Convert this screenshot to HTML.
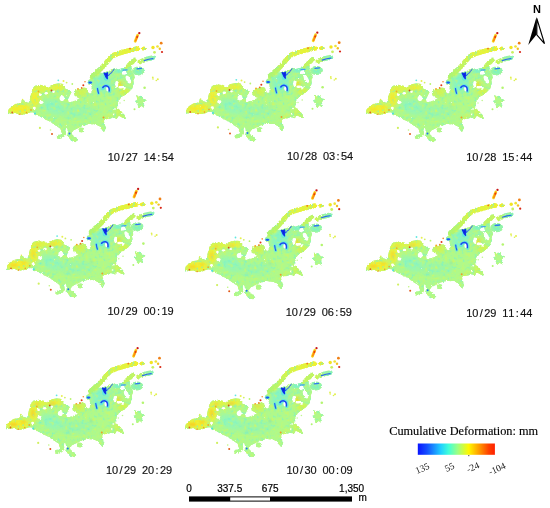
<!DOCTYPE html>
<html><head><meta charset="utf-8"><title>Cumulative Deformation</title>
<style>
html,body{margin:0;padding:0;background:#fff}
svg{display:block}
.lb{font-family:"Liberation Sans",sans-serif;font-size:11px;fill:#111;stroke:#111;stroke-width:0.15px}
.sb{font-family:"Liberation Sans",sans-serif;font-size:10px;fill:#000;text-anchor:middle;stroke:#000;stroke-width:0.2px}
.lt{font-family:"Liberation Serif",serif;font-size:12.3px;fill:#000;stroke:#000;stroke-width:0.15px}
.lk{font-family:"Liberation Serif",serif;font-size:9.6px;fill:#222;text-anchor:middle}
.nn{font-family:"Liberation Sans",sans-serif;font-size:11px;font-weight:bold;fill:#000;text-anchor:middle}
</style></head><body>
<svg width="550" height="508" viewBox="0 0 550 508">
<defs>
<filter id="b0" x="-20%" y="-20%" width="140%" height="140%"><feGaussianBlur stdDeviation="0.35"/></filter>
<filter id="b1" x="-20%" y="-20%" width="140%" height="140%"><feGaussianBlur stdDeviation="0.45"/></filter>
<filter id="b3" x="-20%" y="-20%" width="140%" height="140%"><feGaussianBlur stdDeviation="1.1"/></filter>
<filter id="b2" x="-20%" y="-20%" width="140%" height="140%"><feGaussianBlur stdDeviation="2"/></filter>
<filter id="be" x="-5%" y="-5%" width="110%" height="110%" color-interpolation-filters="sRGB">
 <feTurbulence type="fractalNoise" baseFrequency="0.45" numOctaves="2" seed="3" result="n"/>
 <feDisplacementMap in="SourceGraphic" in2="n" scale="2" xChannelSelector="R" yChannelSelector="G" result="d"/>
 <feGaussianBlur in="d" stdDeviation="1.1" result="ab"/>
 <feTurbulence type="fractalNoise" baseFrequency="0.6" numOctaves="2" seed="11" result="n2"/>
 <feComposite in="ab" in2="n2" operator="arithmetic" k1="0" k2="1" k3="1.45" k4="-0.72" result="m"/>
 <feColorMatrix in="m" type="matrix" values="0 0 0 0 1  0 0 0 0 1  0 0 0 0 1  0 0 0 8 -3.4" result="mk"/>
 <feComposite in="d" in2="mk" operator="in" result="h"/>
 <feTurbulence type="fractalNoise" baseFrequency="0.3" numOctaves="2" seed="5" result="n3"/>
 <feColorMatrix in="n3" type="matrix" values="0 0 0 0 0.47  0 0 0 0 0.95  0 0 0 0 0.8  2.8 0 0 0 -1.58" result="cy"/>
 <feComposite in="cy" in2="h" operator="atop" result="h2"/>
 <feColorMatrix in="n3" type="matrix" values="0 0 0 0 0.84  0 0 0 0 0.97  0 0 0 0 0.36  -2.6 0 0 0 1.1" result="yl"/>
 <feComposite in="yl" in2="h2" operator="atop" result="h3"/>
 <feGaussianBlur in="h3" stdDeviation="0.4"/>
</filter>
<g id="shape"><polygon points="8.0,113.7 9.0,110.0 12.0,106.5 16.0,104.5 21.0,103.5 22.5,99.8 25.0,102.0 29.0,103.8 30.0,101.0 31.0,96.5 32.0,93.5 33.0,89.0 35.0,86.5 40.0,85.5 44.0,86.0 47.0,87.0 49.0,89.2 50.0,87.0 52.0,85.5 55.0,84.8 58.3,84.0 62.0,84.5 64.5,86.5 64.0,89.0 66.0,89.5 69.0,90.5 71.0,92.0 69.5,95.0 67.5,99.0 68.0,102.0 72.0,102.3 76.0,101.0 79.0,99.5 81.0,98.0 78.0,97.0 75.0,95.0 74.5,92.0 76.5,90.0 80.0,89.5 83.0,88.3 86.0,88.5 87.5,90.5 88.0,93.5 90.0,94.2 92.0,93.5 92.2,88.0 92.0,84.5 88.5,83.8 88.2,81.3 91.0,79.0 91.7,77.4 94.7,73.5 97.5,71.2 99.5,72.8 101.0,73.6 104.0,73.0 106.5,72.2 108.8,71.6 112.0,69.6 115.2,68.8 118.4,70.2 121.6,68.8 125.0,67.0 129.0,64.0 131.0,66.5 131.0,71.0 132.7,73.5 134.5,77.0 133.0,80.0 133.2,83.5 132.0,88.0 128.0,92.0 124.0,95.0 120.0,98.0 118.0,101.0 117.5,105.0 116.0,107.5 119.0,110.0 122.0,113.0 124.0,115.0 125.5,119.0 122.0,117.0 119.0,115.0 116.5,118.0 113.0,117.0 110.0,118.0 106.0,118.5 103.0,120.0 104.0,124.0 105.5,128.0 104.0,131.5 102.0,129.0 99.5,126.0 96.0,124.0 90.0,123.5 87.0,124.0 82.0,125.5 77.0,128.0 73.0,130.0 71.0,133.0 72.0,135.5 75.0,137.0 77.5,139.5 76.0,141.5 73.0,142.0 71.0,139.5 69.0,137.0 67.5,135.5 68.5,133.0 68.0,129.0 67.0,127.0 65.5,127.5 65.0,130.0 65.5,134.0 63.5,136.5 60.0,138.5 57.0,138.0 57.5,135.5 61.0,135.0 62.5,133.5 61.5,131.0 61.0,128.5 58.0,126.5 54.0,124.0 51.0,121.5 45.0,118.5 42.0,117.0 38.0,115.0 35.0,114.5 34.0,112.0 31.0,111.5 26.0,113.5 20.0,114.5 16.0,112.5 12.0,113.0"/>
<ellipse cx="138.5" cy="71" rx="5.8" ry="3.9"/>
<polygon points="136.5,96 139.5,97 142,96 142.5,99 146,100 143,102.5 144.5,107.5 141,105 139,109 138,104 135.5,101.5 138,100"/>
<ellipse cx="81.5" cy="130" rx="2.4" ry="1.9"/>
</g>
<mask id="maskS" maskUnits="userSpaceOnUse" x="0" y="20" width="175" height="130"><g fill="#fff" stroke="#fff" stroke-width="1.4"><polygon points="8.0,113.7 9.0,110.0 12.0,106.5 16.0,104.5 21.0,103.5 22.5,99.8 25.0,102.0 29.0,103.8 30.0,101.0 31.0,96.5 32.0,93.5 33.0,89.0 35.0,86.5 40.0,85.5 44.0,86.0 47.0,87.0 49.0,89.2 50.0,87.0 52.0,85.5 55.0,84.8 58.3,84.0 62.0,84.5 64.5,86.5 64.0,89.0 66.0,89.5 69.0,90.5 71.0,92.0 69.5,95.0 67.5,99.0 68.0,102.0 72.0,102.3 76.0,101.0 79.0,99.5 81.0,98.0 78.0,97.0 75.0,95.0 74.5,92.0 76.5,90.0 80.0,89.5 83.0,88.3 86.0,88.5 87.5,90.5 88.0,93.5 90.0,94.2 92.0,93.5 92.2,88.0 92.0,84.5 88.5,83.8 88.2,81.3 91.0,79.0 91.7,77.4 94.7,73.5 97.5,71.2 99.5,72.8 101.0,73.6 104.0,73.0 106.5,72.2 108.8,71.6 112.0,69.6 115.2,68.8 118.4,70.2 121.6,68.8 125.0,67.0 129.0,64.0 131.0,66.5 131.0,71.0 132.7,73.5 134.5,77.0 133.0,80.0 133.2,83.5 132.0,88.0 128.0,92.0 124.0,95.0 120.0,98.0 118.0,101.0 117.5,105.0 116.0,107.5 119.0,110.0 122.0,113.0 124.0,115.0 125.5,119.0 122.0,117.0 119.0,115.0 116.5,118.0 113.0,117.0 110.0,118.0 106.0,118.5 103.0,120.0 104.0,124.0 105.5,128.0 104.0,131.5 102.0,129.0 99.5,126.0 96.0,124.0 90.0,123.5 87.0,124.0 82.0,125.5 77.0,128.0 73.0,130.0 71.0,133.0 72.0,135.5 75.0,137.0 77.5,139.5 76.0,141.5 73.0,142.0 71.0,139.5 69.0,137.0 67.5,135.5 68.5,133.0 68.0,129.0 67.0,127.0 65.5,127.5 65.0,130.0 65.5,134.0 63.5,136.5 60.0,138.5 57.0,138.0 57.5,135.5 61.0,135.0 62.5,133.5 61.5,131.0 61.0,128.5 58.0,126.5 54.0,124.0 51.0,121.5 45.0,118.5 42.0,117.0 38.0,115.0 35.0,114.5 34.0,112.0 31.0,111.5 26.0,113.5 20.0,114.5 16.0,112.5 12.0,113.0"/>
<ellipse cx="138.5" cy="71" rx="5.8" ry="3.9"/>
<polygon points="136.5,96 139.5,97 142,96 142.5,99 146,100 143,102.5 144.5,107.5 141,105 139,109 138,104 135.5,101.5 138,100"/>
<ellipse cx="81.5" cy="130" rx="2.4" ry="1.9"/>
</g></mask>
<mask id="mH" maskUnits="userSpaceOnUse" x="0" y="20" width="175" height="130"><rect x="0" y="20" width="175" height="130" fill="#fff"/>
<g fill="#000">
<ellipse cx="62" cy="98.3" rx="2.4" ry="2.6"/>
<ellipse cx="53.5" cy="91.8" rx="1.4" ry="1.1"/>
<ellipse cx="34.3" cy="108" rx="1.5" ry="1.3"/>
<ellipse cx="41.3" cy="102.3" rx="2.1" ry="1.5"/>
<ellipse cx="40.2" cy="94.8" rx="1.3" ry="1.2"/>
<ellipse cx="46.3" cy="93.2" rx="1.7" ry="1.2"/>
<ellipse cx="124.3" cy="72.7" rx="2.1" ry="2"/>
<ellipse cx="128.3" cy="79.5" rx="1.9" ry="4.3" transform="rotate(-28 128.3 79.5)"/>
<ellipse cx="116.7" cy="84" rx="1.5" ry="3.1"/>
<ellipse cx="120.8" cy="87.2" rx="2.5" ry="1.3"/>
<ellipse cx="124.5" cy="88.5" rx="0.9" ry="1.8" transform="rotate(35 124.5 88.5)"/>
<ellipse cx="110" cy="73.2" rx="0" ry="0"/>
<ellipse cx="115" cy="109" rx="1" ry="0.8"/>
<ellipse cx="113.8" cy="114.3" rx="0.9" ry="0.9"/>
</g>
</mask>
<g id="map">
 <g filter="url(#be)"><g mask="url(#mH)">
 <use href="#shape" fill="#b0f98a" stroke="#b0f98a" stroke-width="1.4"/>
 
<g mask="url(#maskS)">
 <g filter="url(#b2)">
  <ellipse cx="19" cy="109" rx="13" ry="6" fill="#e8f23c"/>
  <ellipse cx="35" cy="97" rx="5" ry="11" fill="#e6f240"/>
  <ellipse cx="44" cy="88" rx="10" ry="4.5" fill="#dcf448"/>
  <ellipse cx="58" cy="87" rx="8" ry="4" fill="#dcf448"/>
  <ellipse cx="81" cy="92" rx="7" ry="5" fill="#cef456"/>
  <ellipse cx="54" cy="107" rx="12" ry="7" fill="#94f6b4" transform="rotate(20 54 107)"/>
  <ellipse cx="78" cy="112" rx="18" ry="6" fill="#9cf6a4"/>
  <ellipse cx="103" cy="82" rx="8" ry="11" fill="#88f4c0" transform="rotate(35 103 82)"/>
  <ellipse cx="122" cy="71" rx="8" ry="3" fill="#78f2cc"/>
  <ellipse cx="138.5" cy="71" rx="5" ry="3" fill="#6cf0d4"/>
  <ellipse cx="120.5" cy="85" rx="2.5" ry="2.5" fill="#f0e038"/>
  <ellipse cx="124" cy="92" rx="6" ry="4" fill="#c8f55c"/>
  <ellipse cx="120" cy="113" rx="5" ry="5" fill="#c8f55c"/>
  <ellipse cx="108" cy="119" rx="5" ry="2.5" fill="#d8f54c"/>
 </g>
 <g filter="url(#b3)">
  <ellipse cx="20.5" cy="108.6" rx="9" ry="3.4" fill="#f4ee2c"/>
  <ellipse cx="35" cy="98" rx="3" ry="6.5" fill="#eef236"/>
  <ellipse cx="38" cy="89.5" rx="3.5" ry="2.5" fill="#e4f440"/>
  <ellipse cx="57" cy="87.5" rx="5" ry="2.2" fill="#e8f23c"/>
  <ellipse cx="119.9" cy="84" rx="1.7" ry="1.9" fill="#fadc18"/>
  <ellipse cx="125" cy="91.5" rx="4" ry="2.5" fill="#d0f550"/>
 </g>
</g>

 
<polyline points="137.5,48.5 132,49.8 125,51.5 118,53.5 112,56 108,60.5 104.5,65 100,69.5 96,73 92,76.5" fill="none" stroke="url(#gN)" stroke-width="5.2" stroke-linecap="round" stroke-linejoin="round"/>
<ellipse cx="143.9" cy="48.5" rx="3" ry="2" fill="#f0ec28"/>
<polyline points="127,67 134.6,59.8" fill="none" stroke="#c0f564" stroke-width="4.8" stroke-linecap="round"/>
<polyline points="140,62 146,59.3 153,57.8" fill="none" stroke="url(#gS)" stroke-width="5" stroke-linecap="round" stroke-linejoin="round"/>

 </g></g>
 <g filter="url(#bf)">
 <g>
  <g opacity="0.75" fill="none" stroke="#58e4ec" stroke-linecap="round">
   <path d="M105.6,75 l0.6,3.5" stroke-width="4.5"/>
   <path d="M103,88.5 q1,-3 4,-2.6 q3,0.6 2.6,5.5" stroke-width="3.6"/>
   <path d="M97.6,88.5 l1,5" stroke-width="2.6"/>
   <path d="M89,82.6 l2.4,0" stroke-width="2.6"/>
  </g>
  <ellipse cx="107.6" cy="88.8" rx="1.4" ry="2.6" fill="#fff"/>
  <path d="M108,75.6 l1.4,-0.6 l0.6,-1.6 l1.6,-0.4 l0.6,-1.8 l1,-0.4 l0.8,-1.6" fill="none" stroke="#2c5cf0" stroke-width="0.95" stroke-linecap="round" stroke-linejoin="round"/>
  <path d="M104,73 l1.8,0.6 l1.6,-1 l0.4,2.6 l-0.6,1.4 l0.2,2.2 l-1.4,-1.6 l-1,-2.2z" fill="#0820e0" stroke="#1030e8" stroke-width="1.1" stroke-linejoin="round"/>
  <path d="M102.8,87.5 q1.5,-2 4,-1.6 q2.8,0.6 2.4,5" fill="none" stroke="#1c48f0" stroke-width="1.5" stroke-linecap="round"/>
  <ellipse cx="90.2" cy="82.6" rx="1.9" ry="1.1" fill="#1c58f4"/>
  <path d="M97.5,88.5 l0.4,2.5 l0.7,2.3" fill="none" stroke="#2058f0" stroke-width="1.2" stroke-linecap="round"/>
  <path d="M144.2,60.6 l4.5,-1.4 l4.3,-0.6" fill="none" stroke="#2868f0" stroke-width="1.1" stroke-linecap="round"/>
  <path d="M137,68.8 l4.5,-0.5" fill="none" stroke="#3078f0" stroke-width="1.3" stroke-linecap="round"/>
  <path d="M123,70.2 l4,-0.4" fill="none" stroke="#40a0f4" stroke-width="1.2" stroke-linecap="round"/>
  <circle cx="69.5" cy="133.5" r="1" fill="#2070f0"/>
 </g>
</g>
 
<g filter="url(#b0)">
 <path d="M137.6,35.3 L135.2,41.2" stroke="#f8d820" stroke-width="2.8" stroke-linecap="round"/>
 <path d="M137.6,35.8 L135.6,40.8" stroke="#ff8a10" stroke-width="1.7" stroke-linecap="round"/>
 <circle cx="139.3" cy="33.2" r="1.15" fill="#c81818"/>
 <circle cx="137.2" cy="37" r="1" fill="#e83810"/>
 <circle cx="130" cy="48.6" r="0.9" fill="#f07020"/>
 <circle cx="153" cy="47.5" r="1.7" fill="#f2e424"/>
 <circle cx="157.5" cy="46.5" r="1.35" fill="#f0e434"/>
 <circle cx="159.8" cy="48.8" r="1.2" fill="#f4c020"/>
 <circle cx="161.2" cy="43.2" r="1.4" fill="#f08018"/>
 <circle cx="162" cy="52" r="1.1" fill="#d82818"/>
 <circle cx="154.5" cy="52.3" r="1.4" fill="#c8f060"/>
 <circle cx="152.8" cy="77.5" r="0.9" fill="#e0f050"/>
 <circle cx="153" cy="79" r="0.8" fill="#e0f050"/>
 <circle cx="157.8" cy="79.3" r="1" fill="#e4f048"/>
 <circle cx="156.3" cy="80.5" r="0.8" fill="#d8f050"/>
 <circle cx="144.6" cy="87.8" r="1.3" fill="#b4f570"/>
 <circle cx="83.3" cy="85.2" r="1" fill="#e03818"/>
 <circle cx="81.7" cy="87.9" r="0.9" fill="#f07818"/>
 <circle cx="85" cy="81.7" r="0.8" fill="#f09030"/>
 <circle cx="78" cy="88.8" r="0.9" fill="#f4a020"/>
 <circle cx="58.3" cy="80.3" r="0.9" fill="#60e8e0"/>
 <circle cx="63.5" cy="81" r="1" fill="#e8f050"/>
 <circle cx="66.6" cy="82.6" r="0.9" fill="#d0f060"/>
 <circle cx="72.3" cy="84" r="0.9" fill="#b8f570"/>
 <circle cx="39.9" cy="127.9" r="1.1" fill="#d0f060"/>
 <circle cx="52" cy="134" r="1" fill="#e05818"/>
 <circle cx="50.5" cy="130" r="0.8" fill="#c0f580"/>
 <circle cx="12.2" cy="112.5" r="0.9" fill="#e06020"/>
 <circle cx="20" cy="114.3" r="0.8" fill="#f09020"/>
 <circle cx="26.5" cy="112.6" r="0.8" fill="#f0a020"/>
 <circle cx="31" cy="110" r="0.9" fill="#f0b020"/>
 <circle cx="38.5" cy="91.5" r="0.9" fill="#f0b020"/>
 <circle cx="51.5" cy="90.5" r="0.9" fill="#d84818"/>
 <circle cx="35" cy="113.6" r="1.1" fill="#50e0e0"/>
 <circle cx="103.5" cy="117.6" r="1" fill="#f0a020"/>
 <circle cx="134.5" cy="109.3" r="1" fill="#b0f570"/>
 <circle cx="124.2" cy="100.5" r="0.8" fill="#c0f590"/>
 <circle cx="120" cy="103" r="0.7" fill="#c0f590"/>
 <circle cx="22.6" cy="99.5" r="0.8" fill="#e0f050"/>
 <circle cx="45.5" cy="119.2" r="0.7" fill="#c0f590"/>
</g>

</g>
<linearGradient id="gN" gradientUnits="userSpaceOnUse" x1="94" y1="76" x2="138" y2="48"><stop offset="0" stop-color="#b0f570"/><stop offset="0.3" stop-color="#c8f558"/><stop offset="0.6" stop-color="#e0f440"/><stop offset="1" stop-color="#eef030"/></linearGradient>
<linearGradient id="gS" gradientUnits="userSpaceOnUse" x1="140" y1="62" x2="153" y2="58"><stop offset="0" stop-color="#c8f55c"/><stop offset="0.5" stop-color="#a8f590"/><stop offset="1" stop-color="#90f2b0"/></linearGradient>
<filter id="bf" x="-20%" y="-20%" width="140%" height="140%">
 <feTurbulence type="fractalNoise" baseFrequency="0.5" numOctaves="1" seed="7" result="n"/>
 <feDisplacementMap in="SourceGraphic" in2="n" scale="1" xChannelSelector="R" yChannelSelector="G" result="d"/>
 <feGaussianBlur in="d" stdDeviation="0.45"/>
</filter>
<linearGradient id="jet" x1="0" x2="1" y1="0" y2="0">
<stop offset="0" stop-color="#0a14ff"/><stop offset="0.12" stop-color="#1450ff"/><stop offset="0.3" stop-color="#20d0ff"/><stop offset="0.4" stop-color="#40ffd8"/><stop offset="0.52" stop-color="#a0ff80"/><stop offset="0.66" stop-color="#fff800"/><stop offset="0.8" stop-color="#ff9800"/><stop offset="0.92" stop-color="#ff4000"/><stop offset="1" stop-color="#ff2000"/>
</linearGradient>
</defs>
<rect width="550" height="508" fill="#fff"/>
<use href="#map" transform="translate(0,0)"/>
<text x="107.7 113.7 121.2 125.7 131.7 137.7 143.7 149.7 157.2 161.7 167.7" y="160.7" class="lb">10/27 14:54</text>
<use href="#map" transform="translate(178,-0.5)"/>
<g transform="translate(178,-0.5)" filter="url(#b3)" opacity="0.1"><ellipse cx="15" cy="109.5" rx="4" ry="1.8" fill="#f8b020"/><ellipse cx="25" cy="107" rx="3" ry="1.5" fill="#f8c020"/><ellipse cx="34.5" cy="98" rx="1.8" ry="4" fill="#f8b828"/><ellipse cx="39" cy="89" rx="2.5" ry="1.5" fill="#f8c030"/><ellipse cx="54" cy="88.5" rx="3.5" ry="1.4" fill="#f8b828"/><ellipse cx="80" cy="91" rx="3" ry="1.6" fill="#f0d838"/><circle cx="70" cy="117" r="1.2" fill="#50d8f0"/><circle cx="93" cy="106" r="1.2" fill="#40c0f4"/></g>
<text x="286.9 292.9 300.4 304.9 310.9 316.9 322.9 328.9 336.4 340.9 346.9" y="160.3" class="lb">10/28 03:54</text>
<use href="#map" transform="translate(358,0)"/>
<g transform="translate(358,0)" filter="url(#b3)" opacity="0.15"><ellipse cx="15" cy="109.5" rx="4" ry="1.8" fill="#f8b020"/><ellipse cx="25" cy="107" rx="3" ry="1.5" fill="#f8c020"/><ellipse cx="34.5" cy="98" rx="1.8" ry="4" fill="#f8b828"/><ellipse cx="39" cy="89" rx="2.5" ry="1.5" fill="#f8c030"/><ellipse cx="54" cy="88.5" rx="3.5" ry="1.4" fill="#f8b828"/><ellipse cx="80" cy="91" rx="3" ry="1.6" fill="#f0d838"/><circle cx="70" cy="117" r="1.2" fill="#50d8f0"/><circle cx="93" cy="106" r="1.2" fill="#40c0f4"/></g>
<text x="466.3 472.3 479.8 484.3 490.3 496.3 502.3 508.3 515.8 520.3 526.3" y="160.7" class="lb">10/28 15:44</text>
<use href="#map" transform="translate(-1.2,155.8)"/>
<g transform="translate(-1.2,155.8)" filter="url(#b3)" opacity="0.28"><ellipse cx="15" cy="109.5" rx="4" ry="1.8" fill="#f8b020"/><ellipse cx="25" cy="107" rx="3" ry="1.5" fill="#f8c020"/><ellipse cx="34.5" cy="98" rx="1.8" ry="4" fill="#f8b828"/><ellipse cx="39" cy="89" rx="2.5" ry="1.5" fill="#f8c030"/><ellipse cx="54" cy="88.5" rx="3.5" ry="1.4" fill="#f8b828"/><ellipse cx="80" cy="91" rx="3" ry="1.6" fill="#f0d838"/><circle cx="70" cy="117" r="1.2" fill="#50d8f0"/><circle cx="93" cy="106" r="1.2" fill="#40c0f4"/></g>
<text x="107.6 113.6 121.1 125.6 131.6 137.6 143.6 149.6 157.1 161.6 167.6" y="315.3" class="lb">10/29 00:19</text>
<use href="#map" transform="translate(177.2,157.2)"/>
<g transform="translate(177.2,157.2)" filter="url(#b3)" opacity="0.33"><ellipse cx="15" cy="109.5" rx="4" ry="1.8" fill="#f8b020"/><ellipse cx="25" cy="107" rx="3" ry="1.5" fill="#f8c020"/><ellipse cx="34.5" cy="98" rx="1.8" ry="4" fill="#f8b828"/><ellipse cx="39" cy="89" rx="2.5" ry="1.5" fill="#f8c030"/><ellipse cx="54" cy="88.5" rx="3.5" ry="1.4" fill="#f8b828"/><ellipse cx="80" cy="91" rx="3" ry="1.6" fill="#f0d838"/><circle cx="70" cy="117" r="1.2" fill="#50d8f0"/><circle cx="93" cy="106" r="1.2" fill="#40c0f4"/></g>
<text x="285.8 291.8 299.3 303.8 309.8 315.8 321.8 327.8 335.3 339.8 345.8" y="316.0" class="lb">10/29 06:59</text>
<use href="#map" transform="translate(358.2,156.7)"/>
<g transform="translate(358.2,156.7)" filter="url(#b3)" opacity="0.36"><ellipse cx="15" cy="109.5" rx="4" ry="1.8" fill="#f8b020"/><ellipse cx="25" cy="107" rx="3" ry="1.5" fill="#f8c020"/><ellipse cx="34.5" cy="98" rx="1.8" ry="4" fill="#f8b828"/><ellipse cx="39" cy="89" rx="2.5" ry="1.5" fill="#f8c030"/><ellipse cx="54" cy="88.5" rx="3.5" ry="1.4" fill="#f8b828"/><ellipse cx="80" cy="91" rx="3" ry="1.6" fill="#f0d838"/><circle cx="70" cy="117" r="1.2" fill="#50d8f0"/><circle cx="93" cy="106" r="1.2" fill="#40c0f4"/></g>
<text x="466.3 472.3 479.8 484.3 490.3 496.3 502.3 508.3 515.8 520.3 526.3" y="317.0" class="lb">10/29 11:44</text>
<use href="#map" transform="translate(-1.7,315)"/>
<g transform="translate(-1.7,315)" filter="url(#b3)" opacity="0.45"><ellipse cx="15" cy="109.5" rx="4" ry="1.8" fill="#f8b020"/><ellipse cx="25" cy="107" rx="3" ry="1.5" fill="#f8c020"/><ellipse cx="34.5" cy="98" rx="1.8" ry="4" fill="#f8b828"/><ellipse cx="39" cy="89" rx="2.5" ry="1.5" fill="#f8c030"/><ellipse cx="54" cy="88.5" rx="3.5" ry="1.4" fill="#f8b828"/><ellipse cx="80" cy="91" rx="3" ry="1.6" fill="#f0d838"/><circle cx="70" cy="117" r="1.2" fill="#50d8f0"/><circle cx="93" cy="106" r="1.2" fill="#40c0f4"/></g>
<text x="106.1 112.1 119.6 124.1 130.1 136.1 142.1 148.1 155.6 160.1 166.1" y="474.1" class="lb">10/29 20:29</text>
<use href="#map" transform="translate(177.2,315)"/>
<g transform="translate(177.2,315)" filter="url(#b3)" opacity="0.5"><ellipse cx="15" cy="109.5" rx="4" ry="1.8" fill="#f8b020"/><ellipse cx="25" cy="107" rx="3" ry="1.5" fill="#f8c020"/><ellipse cx="34.5" cy="98" rx="1.8" ry="4" fill="#f8b828"/><ellipse cx="39" cy="89" rx="2.5" ry="1.5" fill="#f8c030"/><ellipse cx="54" cy="88.5" rx="3.5" ry="1.4" fill="#f8b828"/><ellipse cx="80" cy="91" rx="3" ry="1.6" fill="#f0d838"/><circle cx="70" cy="117" r="1.2" fill="#50d8f0"/><circle cx="93" cy="106" r="1.2" fill="#40c0f4"/></g>
<text x="286.6 292.6 300.1 304.6 310.6 316.6 322.6 328.6 336.1 340.6 346.6" y="474.1" class="lb">10/30 00:09</text>

<!-- north arrow -->
<text x="537" y="13.3" class="nn">N</text>
<polygon points="536.6,16.8 528.2,44.9 536.6,34.4" fill="#000"/>
<polygon points="536.8,18.4 544.5,43.7 536.8,34.8" fill="#fff" stroke="#000" stroke-width="1.2" stroke-linejoin="miter"/>
<!-- scale bar -->
<rect x="189" y="496.4" width="163" height="5.2" fill="#000"/>
<rect x="230.2" y="497.4" width="39.8" height="3.2" fill="#fff"/>
<text x="189" y="491.5" class="sb">0</text>
<text x="229.7" y="491.5" class="sb">337.5</text>
<text x="270.2" y="491.5" class="sb">675</text>
<text x="351.6" y="491.5" class="sb">1,350</text>
<text x="362.6" y="501.2" class="sb">m</text>
<!-- legend -->
<text x="389.2" y="434.8" class="lt">Cumulative Deformation: mm</text>
<rect x="417.8" y="443.5" width="77.1" height="11.3" fill="url(#jet)"/>
<rect x="468.3" y="455" width="1" height="1.2" fill="#444"/>
<text transform="translate(423.6,471.2) rotate(-24)" class="lk">135</text>
<text transform="translate(450.8,470) rotate(-24)" class="lk">55</text>
<text transform="translate(474.2,470.2) rotate(-24)" class="lk">-24</text>
<text transform="translate(498.3,471.6) rotate(-24)" class="lk">-104</text>
</svg>
</body></html>
